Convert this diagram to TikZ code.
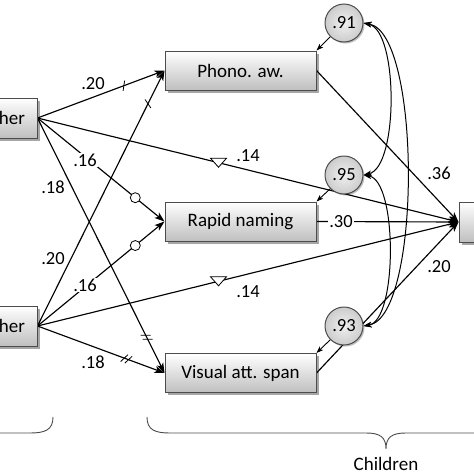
\documentclass[tikz,border=0pt]{standalone}
\usepackage{fontspec}
\setmainfont{Carlito}
\usetikzlibrary{arrows.meta,shadows,decorations.markings,calc,backgrounds}
\begin{document}
\begin{tikzpicture}[x=1pt,y=-1pt,
  box/.style={draw=black!70, line width=1pt, top color=white, bottom color=black!25,
    minimum height=39pt, inner sep=0pt, font=\fontsize{19}{22}\selectfont,
    drop shadow={shadow xshift=2.5pt, shadow yshift=-2.5pt, opacity=0.35, fill=black}},
  circ/.style={circle, draw=black!70, line width=1pt, inner color=black!6, outer color=black!20,
    minimum size=38pt, inner sep=0pt, font=\fontsize{18.5}{20}\selectfont,
    drop shadow={shadow xshift=1.5pt, shadow yshift=-1.5pt, opacity=0.25, fill=black}},
  lbl/.style={font=\fontsize{18.5}{20}\selectfont, inner sep=1pt},
  wlbl/.style={lbl, fill=white},
  arr/.style={line width=1.15pt, -{Stealth[length=10pt,width=7pt,inset=2.5pt]}},
  arrs/.style={line width=0.9pt, -{Stealth[length=7pt,width=5pt,inset=2pt]}},
  dbl/.style={line width=1pt, {Stealth[length=8pt,width=5.5pt,inset=2pt]}-{Stealth[length=8pt,width=5.5pt,inset=2pt]}},
  tickmark/.style={postaction={decorate,decoration={markings,
    mark=at position #1 with {\draw[-,line width=0.8pt] (-2.5pt,-4.5pt) -- (2.5pt,4.5pt);}}}},
  dtickmark/.style={postaction={decorate,decoration={markings,
    mark=at position #1 with {\draw[-,line width=0.8pt] (-4.5pt,-4.5pt) -- (0pt,4.5pt) (0pt,-4.5pt) -- (4.5pt,4.5pt);}}}},
  circmark/.style={postaction={decorate,decoration={markings,
    mark=at position #1 with {\node[draw, circle, fill=white, inner sep=0pt, minimum size=10pt, line width=0.8pt] {};}}}},
  trimark/.style={draw, fill=white, line width=0.8pt},
  bracestyle/.style={draw=black!70, line width=0.9pt}
]
\useasboundingbox (0,0) rectangle (474,474);
\clip (0,0) rectangle (474,474);

% boxes
\node[box, minimum width=151pt] (ph) at (240.5,70.5) {Phono. aw.};
\node[box, minimum width=151pt] (rn) at (240.5,221.5) {Rapid naming};
\node[box, minimum width=151pt] (vs) at (240.5,373) {Visual att. span};
\node[box, minimum width=100pt, minimum height=40pt] (tg) at (509,222) {};
\node[box, minimum width=94pt, minimum height=40pt, text width=70pt, align=right, inner xsep=12pt] (mo) at (-10,118) {her};
\node[box, minimum width=94pt, minimum height=40pt, text width=70pt, align=right, inner xsep=12pt] (fa) at (-10,326) {her};

% residual circles
\node[circ] (c1) at (344,23) {.91};
\node[circ] (c2) at (344,175) {.95};
\node[circ] (c3) at (344,326) {.93};

\begin{scope}[on background layer]
  \draw[arr, tickmark=0.68] (mo.east) -- (ph.west);
  \draw[arr, tickmark=0.87] (fa.east) -- (ph.west);
  \draw[arr, circmark=0.77] (mo.east) -- (rn.west);
  \draw[arr, circmark=0.77] (fa.east) -- (rn.west);
  \draw[arr, dtickmark=0.86] (mo.east) -- (vs.west);
  \draw[arr, dtickmark=0.70] (fa.east) -- (vs.west);
  \draw[arr] (mo.east) -- coordinate[pos=0.43] (t1) (tg.west);
  \draw[arr] (fa.east) -- coordinate[pos=0.43] (t2) (tg.west);
  \draw[arr] (ph.east) -- (tg.west);
  \draw[arr] (rn.east) -- (tg.west);
  \draw[arr] (vs.east) -- (tg.west);
\end{scope}

\draw[trimark] ($(t1)+(-8,-4.5)$) -- ($(t1)+(8,-4.5)$) -- ($(t1)+(0,4.5)$) -- cycle;
\draw[trimark] ($(t2)+(-8,-4.5)$) -- ($(t2)+(8,-4.5)$) -- ($(t2)+(0,4.5)$) -- cycle;

% residual arrows
\draw[arrs] (c1.225) -- (ph.north east);
\draw[arrs] (c2.225) -- (rn.north east);
\draw[arrs] (c3.225) -- (vs.north east);

% correlations
\draw[dbl] (c1.east) .. controls +(35,8) and +(35,-8) .. (c2.east);
\draw[dbl] (c1.east) .. controls +(58,10) and +(58,-10) .. (c3.east);
\draw[dbl] (c2.east) .. controls +(34,6) and +(34,-6) .. (c3.east);

% labels
\node[lbl] (l1) at (93,84) {.20};
\node[wlbl] (l2) at (85,160) {.16};
\node[lbl] (l3) at (53,187) {.18};
\node[lbl] (l4) at (53,259) {.20};
\node[wlbl] (l5) at (85,285) {.16};
\node[lbl] (l6) at (93,362) {.18};
\node[lbl] (l7) at (248,156) {.14};
\node[lbl] (l8) at (248,292) {.14};
\node[lbl] (l9) at (439,173) {.36};
\node[wlbl] (l10) at (341,222) {.30};
\node[lbl] (l11) at (439,267) {.20};

% braces
\draw[bracestyle] (53,417) .. controls (53,430) and (45,433) .. (30,433) -- (-5,433);
\draw[bracestyle] (147,417) .. controls (147,430) and (155,433) .. (170,433) -- (366,433)
  .. controls (380,433) and (386,437) .. (386,449)
  .. controls (386,437) and (392,433) .. (406,433) -- (480,433);
\node[font=\fontsize{19}{22}\selectfont, anchor=base, inner sep=0pt] (ch) at (386,470) {Children};
\end{tikzpicture}
\end{document}
